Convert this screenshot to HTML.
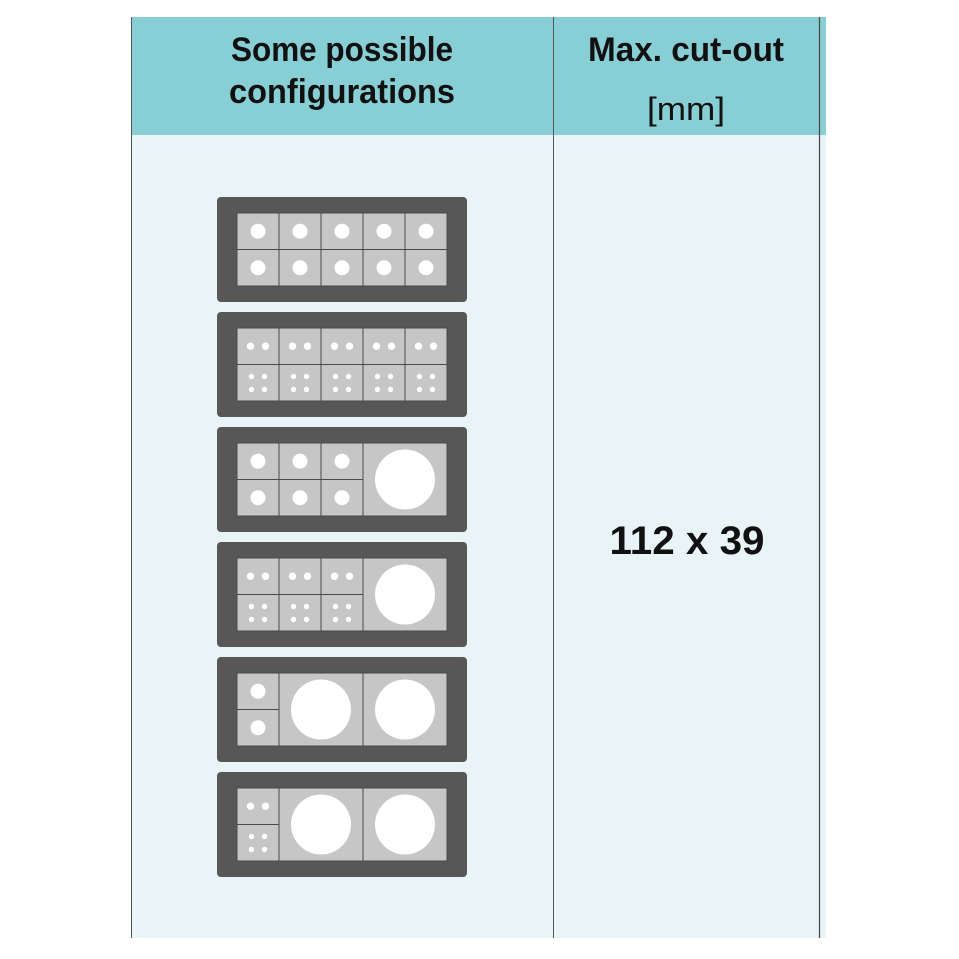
<!DOCTYPE html>
<html><head><meta charset="utf-8"><style>
html,body{margin:0;padding:0;background:#fff}
svg{display:block}
</style></head><body>
<svg width="959" height="959" viewBox="0 0 959 959" xmlns="http://www.w3.org/2000/svg">
<defs>
<g id="S"><rect width="42" height="36.5" fill="#c6c6c6" stroke="#4a4a4a" stroke-width="1"/><circle cx="21" cy="18.25" r="7.5" fill="#fff"/></g>
<g id="P"><rect width="42" height="36.5" fill="#c6c6c6" stroke="#4a4a4a" stroke-width="1"/><circle cx="13.5" cy="18.25" r="3.7" fill="#fff"/><circle cx="28.5" cy="18.25" r="3.7" fill="#fff"/></g>
<g id="Q"><rect width="42" height="36.5" fill="#c6c6c6" stroke="#4a4a4a" stroke-width="1"/><circle cx="14.5" cy="12" r="2.7" fill="#fff"/><circle cx="27.5" cy="12" r="2.7" fill="#fff"/><circle cx="14.5" cy="25" r="2.7" fill="#fff"/><circle cx="27.5" cy="25" r="2.7" fill="#fff"/></g>
<g id="B"><rect width="84" height="73" fill="#c6c6c6" stroke="#4a4a4a" stroke-width="1"/><circle cx="42" cy="36.5" r="30" fill="#fff"/></g>
<g id="F"><rect width="250" height="105" rx="4" fill="#575757"/><rect x="20" y="16" width="210" height="73" fill="#c6c6c6"/></g>
</defs>
<rect x="131" y="17" width="695" height="118" fill="#88ced5"/>
<rect x="131" y="135" width="695" height="803" fill="#e8f4f6"/>
<line x1="131.5" y1="17" x2="131.5" y2="938" stroke="#555" stroke-width="1"/>
<line x1="553.5" y1="17" x2="553.5" y2="938" stroke="#555" stroke-width="1"/>
<line x1="819.5" y1="17" x2="819.5" y2="938" stroke="#444" stroke-width="1.2"/>
<g font-family="'Liberation Sans Narrow','Liberation Sans',sans-serif" font-weight="bold" fill="#111" text-anchor="middle">
<text x="342" y="61" font-size="34" textLength="222" lengthAdjust="spacingAndGlyphs">Some possible</text>
<text x="342" y="103" font-size="34" textLength="226" lengthAdjust="spacingAndGlyphs">configurations</text>
<text x="686" y="61" font-size="34" textLength="196" lengthAdjust="spacingAndGlyphs">Max. cut-out</text>
<text x="687" y="554" font-size="40" textLength="155" lengthAdjust="spacingAndGlyphs">112 x 39</text>
</g>
<text x="686" y="120" font-family="'Liberation Sans Narrow','Liberation Sans',sans-serif" font-size="32" fill="#111" text-anchor="middle" textLength="78" lengthAdjust="spacingAndGlyphs">[mm]</text>

<use href="#F" x="217" y="197"/>
<use href="#S" x="237" y="213"/><use href="#S" x="279" y="213"/><use href="#S" x="321" y="213"/><use href="#S" x="363" y="213"/><use href="#S" x="405" y="213"/>
<use href="#S" x="237" y="249.5"/><use href="#S" x="279" y="249.5"/><use href="#S" x="321" y="249.5"/><use href="#S" x="363" y="249.5"/><use href="#S" x="405" y="249.5"/>
<use href="#F" x="217" y="312"/>
<use href="#P" x="237" y="328"/><use href="#P" x="279" y="328"/><use href="#P" x="321" y="328"/><use href="#P" x="363" y="328"/><use href="#P" x="405" y="328"/>
<use href="#Q" x="237" y="364.5"/><use href="#Q" x="279" y="364.5"/><use href="#Q" x="321" y="364.5"/><use href="#Q" x="363" y="364.5"/><use href="#Q" x="405" y="364.5"/>
<use href="#F" x="217" y="427"/>
<use href="#S" x="237" y="443"/><use href="#S" x="279" y="443"/><use href="#S" x="321" y="443"/>
<use href="#S" x="237" y="479.5"/><use href="#S" x="279" y="479.5"/><use href="#S" x="321" y="479.5"/>
<use href="#B" x="363" y="443"/>
<use href="#F" x="217" y="542"/>
<use href="#P" x="237" y="558"/><use href="#P" x="279" y="558"/><use href="#P" x="321" y="558"/>
<use href="#Q" x="237" y="594.5"/><use href="#Q" x="279" y="594.5"/><use href="#Q" x="321" y="594.5"/>
<use href="#B" x="363" y="558"/>
<use href="#F" x="217" y="657"/>
<use href="#S" x="237" y="673"/><use href="#S" x="237" y="709.5"/>
<use href="#B" x="279" y="673"/><use href="#B" x="363" y="673"/>
<use href="#F" x="217" y="772"/>
<use href="#P" x="237" y="788"/><use href="#Q" x="237" y="824.5"/>
<use href="#B" x="279" y="788"/><use href="#B" x="363" y="788"/>
</svg>
</body></html>
